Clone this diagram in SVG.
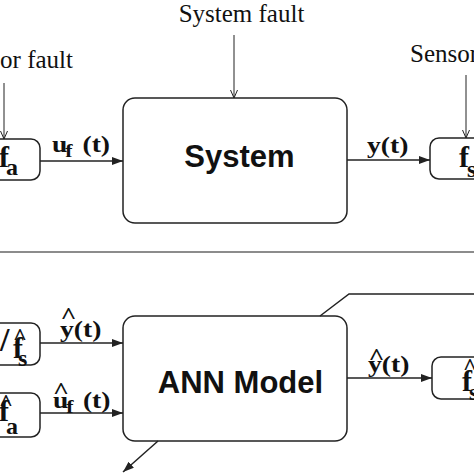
<svg xmlns="http://www.w3.org/2000/svg" width="474" height="474" viewBox="0 0 474 474">
<defs>
<style>
.box{fill:#fff;stroke:#222;stroke-width:1.5}
.ln{stroke:#222;stroke-width:1.5;fill:none}
.thin{stroke:#222;stroke-width:1;fill:none}
.t{font-family:"Liberation Serif","Times New Roman",serif;font-size:25px;fill:#111}
.lbl{font-family:"Liberation Serif","Times New Roman",serif;font-weight:bold;font-size:24px;fill:#111}
.sym{font-family:"Liberation Serif","Times New Roman",serif;font-weight:bold;font-size:30px;fill:#111}
.sub{font-size:24px}
.lsub{font-size:19px}
.hat{font-size:24px}
.big{font-family:"Liberation Sans",Arial,sans-serif;font-weight:bold;font-size:31px;fill:#111}
</style>
<marker id="fa" markerUnits="userSpaceOnUse" markerWidth="11" markerHeight="8" refX="11" refY="4" orient="auto">
<path d="M0,0 L11,4 L0,8 z" fill="#222"/>
</marker>
<marker id="oa" markerUnits="userSpaceOnUse" markerWidth="9" markerHeight="9" refX="8" refY="4.5" orient="auto" overflow="visible">
<path d="M0,1 L8,4.5 L0,8" fill="none" stroke="#222" stroke-width="1"/>
</marker>
</defs>

<text class="t" x="241.5" y="22" text-anchor="middle">System fault</text>
<text class="t" x="73" y="68" text-anchor="end">or fault</text>
<text class="t" x="410" y="62">Sensor</text>

<line x1="0" y1="252" x2="474" y2="252" stroke="#666" stroke-width="1.5"/>

<g id="node-fa">
<rect class="box" x="-20" y="139" width="60" height="41" rx="9"/>
<text class="sym"><tspan x="-1" y="167">f</tspan><tspan class="sub" x="6" y="175">a</tspan></text>
</g>
<g id="node-system">
<rect class="box" x="123" y="98" width="224" height="125" rx="12"/>
<text class="big" x="239.5" y="167" text-anchor="middle">System</text>
</g>
<g id="node-fs">
<rect class="box" x="430" y="138" width="60" height="41" rx="9"/>
<text class="sym"><tspan x="459" y="167">f</tspan><tspan class="sub" x="467" y="177">s</tspan></text>
</g>
<g id="node-fs-hat-left">
<rect class="box" x="-20" y="323" width="60" height="42" rx="9"/>
<text class="sym"><tspan x="0" y="351" font-size="34">/</tspan><tspan class="hat" x="13" y="344">^</tspan><tspan x="13" y="358">f</tspan><tspan class="sub" x="18" y="366">s</tspan></text>
</g>
<g id="node-fa-hat">
<rect class="box" x="-20" y="393" width="60" height="44" rx="9"/>
<text class="sym"><tspan class="hat" x="-1" y="410">^</tspan><tspan x="-1" y="421">f</tspan><tspan class="sub" x="6" y="434">a</tspan></text>
</g>
<g id="node-ann">
<rect class="box" x="123" y="316" width="224" height="125" rx="12"/>
<text class="big" x="240.5" y="393" text-anchor="middle">ANN Model</text>
</g>
<g id="node-fs-hat-right">
<rect class="box" x="432" y="357" width="60" height="42" rx="9"/>
<text class="sym"><tspan class="hat" x="463" y="374">^</tspan><tspan x="462" y="391">f</tspan><tspan class="sub" x="469" y="400">s</tspan></text>
</g>

<g id="connectors">
<line class="thin" x1="4" y1="83" x2="4" y2="139" marker-end="url(#oa)"/>
<line class="thin" x1="234" y1="35" x2="234" y2="98" marker-end="url(#oa)"/>
<line class="thin" x1="466" y1="75" x2="466" y2="138" marker-end="url(#oa)"/>
<line class="ln" x1="40" y1="161" x2="123" y2="161" marker-end="url(#fa)"/>
<line class="ln" x1="347" y1="160" x2="430" y2="160" marker-end="url(#fa)"/>
<line class="ln" x1="40" y1="343" x2="123" y2="343" marker-end="url(#fa)"/>
<line class="ln" x1="40" y1="413" x2="123" y2="413" marker-end="url(#fa)"/>
<line class="ln" x1="347" y1="378" x2="432" y2="378" marker-end="url(#fa)"/>
<polyline class="ln" points="474,294 349,294 320,316"/>
<line class="ln" x1="158" y1="441" x2="123" y2="472" marker-end="url(#fa)"/>
</g>

<g id="labels">
<text class="lbl" transform="translate(52,152) scale(1.15,1)"><tspan x="0" y="0">u</tspan><tspan class="lsub" x="11.5" y="5">f</tspan><tspan x="26.5" y="0">(t)</tspan></text>
<text class="lbl" transform="translate(367,153) scale(1.15,1)" x="0" y="0">y(t)</text>
<text class="lbl" transform="translate(60,337) scale(1.15,1)"><tspan class="hat" x="0.5" y="-14.5">^</tspan><tspan x="0" y="0">y(t)</tspan></text>
<text class="lbl" transform="translate(53,408) scale(1.15,1)"><tspan class="hat" x="0" y="-10">^</tspan><tspan x="0" y="0">u</tspan><tspan class="lsub" x="11.5" y="5">f</tspan><tspan x="26" y="0">(t)</tspan></text>
<text class="lbl" transform="translate(368,372) scale(1.15,1)"><tspan class="hat" x="0.5" y="-8.5">^</tspan><tspan x="0" y="0">y(t)</tspan></text>
</g>
</svg>
